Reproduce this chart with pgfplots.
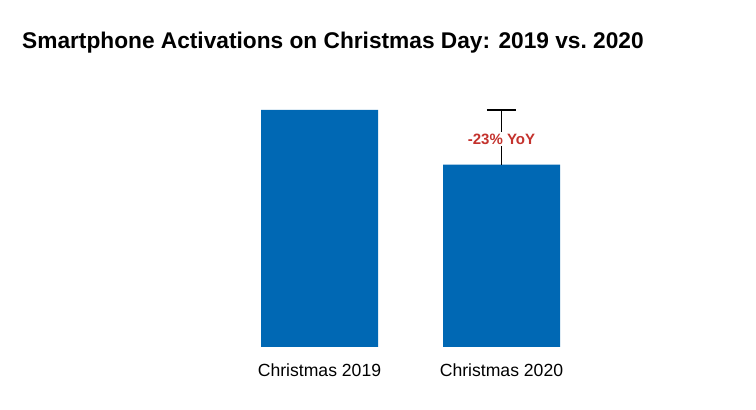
\documentclass[border=0pt]{standalone}
\usepackage{pgfplots}
\pgfplotsset{compat=1.18}
\usepackage{fontspec}
\setmainfont{Liberation Sans}
\definecolor{barblue}{RGB}{0,104,180}
\definecolor{yoyred}{RGB}{196,50,45}
\begin{document}
\begin{tikzpicture}[x=1pt,y=1pt]
\path[use as bounding box,fill=white] (0,0) rectangle (756,410);
\node[anchor=base west,inner sep=0pt,font=\fontsize{22.7}{26}\selectfont\bfseries] at (22,361) {Smartphone Activations on Christmas Day: 2019 vs.\ 2020};
\begin{axis}[
  at={(228.5pt,63pt)}, anchor=south west,
  scale only axis, width=364pt, height=260.7pt,
  xmin=-0.5, xmax=1.5, ymin=0, ymax=110,
  axis line style={draw=none}, ytick=\empty,
  xtick={0,1}, xticklabels={Christmas 2019, Christmas 2020},
  major tick length=0pt,
  xticklabel style={font=\fontsize{17.6}{20}\selectfont, yshift=-13pt},
  clip=false,
]
\addplot[ybar, bar width=117pt, fill=barblue, draw=none] coordinates {(0,100) (1,77)};
\addplot[black, line width=1.4pt] coordinates {(1,77) (1,100)};
\addplot[black, line width=1.4pt] coordinates {(0.92,100) (1.08,100)};
\node[fill=white, inner sep=2pt, text=yoyred, font=\fontsize{15}{17}\selectfont\bfseries] at (axis cs:1,87.8) {-23\% YoY};
\end{axis}
\end{tikzpicture}
\end{document}
